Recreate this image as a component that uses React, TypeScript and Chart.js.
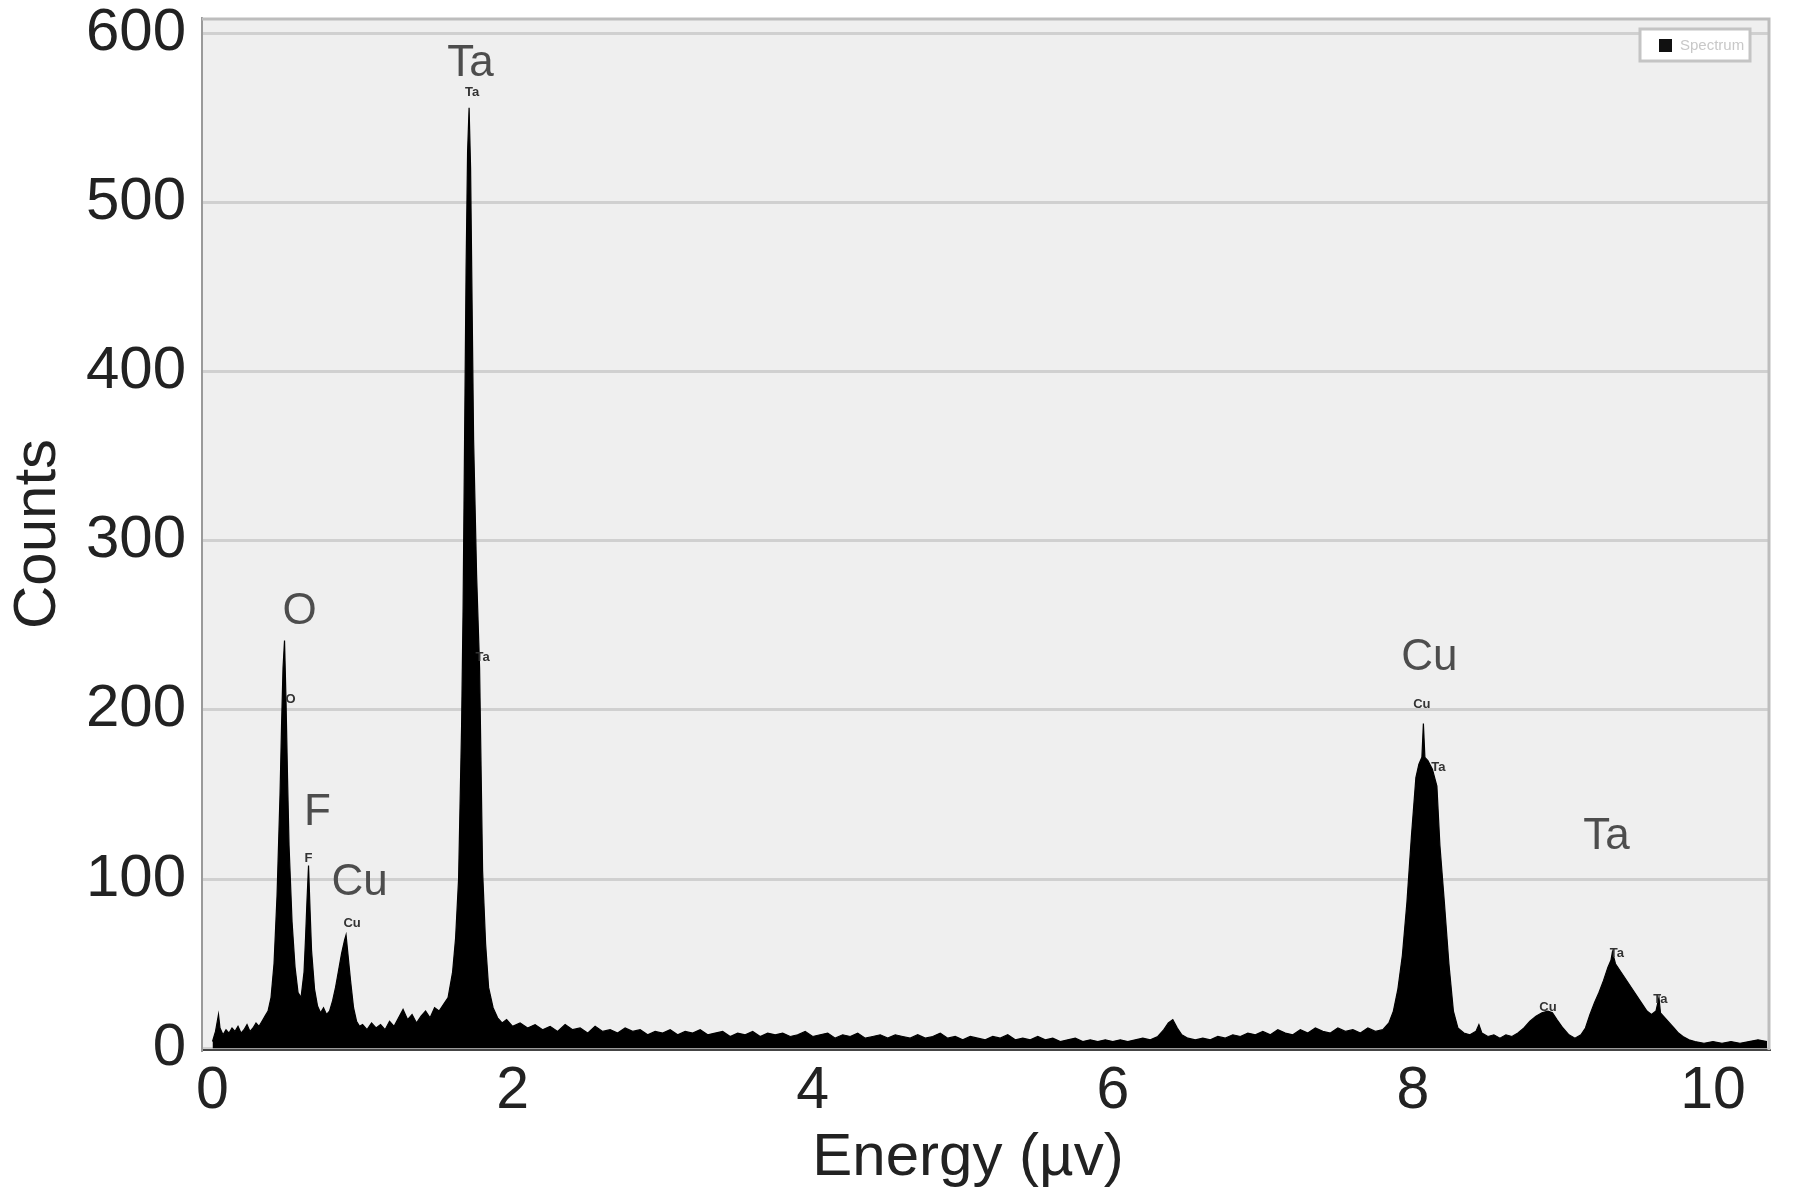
import React, { useEffect, useRef } from 'react';
import { Chart, registerables } from 'chart.js';

Chart.register(...registerables);

// ---- data ----
const energies = [
  0.00, 0.02, 0.04, 0.05, 0.07, 0.09, 0.11, 0.13, 0.15, 0.17, 0.19, 0.21, 0.23, 0.25, 0.27, 0.29,
  0.31, 0.33, 0.35, 0.37, 0.39, 0.41, 0.43, 0.45, 0.46, 0.47, 0.48, 0.49, 0.50, 0.51, 0.53, 0.55,
  0.57, 0.59, 0.61, 0.62, 0.63, 0.64, 0.65, 0.66, 0.68, 0.70, 0.72, 0.74, 0.76, 0.78, 0.80, 0.82,
  0.84, 0.86, 0.88, 0.89, 0.90, 0.92, 0.94, 0.96, 0.98, 1.00, 1.03, 1.06, 1.09, 1.12, 1.15, 1.18,
  1.21, 1.24, 1.27, 1.30, 1.33, 1.36, 1.39, 1.42, 1.45, 1.48, 1.51, 1.54, 1.57, 1.60, 1.62, 1.64,
  1.66, 1.67, 1.68, 1.69, 1.70, 1.71, 1.72, 1.73, 1.74, 1.76, 1.78, 1.79, 1.80, 1.82, 1.84, 1.87,
  1.90, 1.93, 1.96, 2.00,
  2.05, 2.10, 2.15, 2.20, 2.25, 2.30, 2.35, 2.40, 2.45, 2.50, 2.55, 2.60, 2.65, 2.70, 2.75, 2.80,
  2.85, 2.90, 2.95, 3.00, 3.05, 3.10, 3.15, 3.20, 3.25, 3.30, 3.35, 3.40, 3.45, 3.50, 3.55, 3.60,
  3.65, 3.70, 3.75, 3.80, 3.85, 3.90, 3.95, 4.00, 4.05, 4.10, 4.15, 4.20, 4.25, 4.30, 4.35, 4.40,
  4.45, 4.50, 4.55, 4.60, 4.65, 4.70, 4.75, 4.80, 4.85, 4.90, 4.95, 5.00, 5.05, 5.10, 5.15, 5.20,
  5.25, 5.30, 5.35, 5.40, 5.45, 5.50, 5.55, 5.60, 5.65, 5.70, 5.75, 5.80, 5.85, 5.90, 5.95, 6.00,
  6.05, 6.10, 6.15, 6.20, 6.25, 6.30, 6.34, 6.37, 6.40, 6.43, 6.46, 6.50, 6.55, 6.60, 6.65, 6.70,
  6.75, 6.80, 6.85, 6.90, 6.95, 7.00, 7.05, 7.10, 7.15, 7.20, 7.25, 7.30, 7.35, 7.40, 7.45, 7.50,
  7.55, 7.60, 7.65, 7.70, 7.75,
  7.80, 7.84, 7.87, 7.90, 7.93, 7.96, 7.99, 8.02, 8.04, 8.06, 8.07, 8.08, 8.10, 8.13, 8.16, 8.18,
  8.21, 8.24, 8.27, 8.30, 8.34, 8.38, 8.42, 8.44, 8.46, 8.50, 8.54, 8.58, 8.62, 8.66, 8.70, 8.74,
  8.78, 8.82, 8.86, 8.90, 8.93, 8.96, 9.00, 9.04, 9.08, 9.12, 9.15, 9.18, 9.21, 9.24, 9.27, 9.30,
  9.32, 9.33, 9.35, 9.38, 9.41, 9.44, 9.47, 9.50, 9.53, 9.56, 9.59, 9.62, 9.64, 9.65, 9.68, 9.71,
  9.74, 9.77, 9.80, 9.84, 9.88, 9.94, 10.00, 10.06, 10.12, 10.18, 10.24, 10.30, 10.36,
];

const counts = [
  4, 10, 20, 12, 8, 11, 9, 12, 10, 13, 9, 11, 14, 10, 12, 15,
  13, 16, 19, 22, 30, 50, 90, 150, 190, 225, 241, 205, 160, 120, 75, 48,
  33, 30, 45, 65, 88, 108, 82, 58, 35, 25, 21, 24, 20, 22, 28, 36,
  46, 56, 64, 67, 58, 40, 24, 16, 13, 14, 11, 15, 12, 14, 11, 16,
  13, 18, 23, 17, 20, 15, 19, 22, 18, 24, 22, 26, 30, 45, 65, 100,
  190, 260, 360, 460, 530, 556, 520, 440, 360, 280, 225, 165, 105, 62, 36, 24,
  18, 15, 17, 13,
  15, 12, 14, 11, 13, 10, 14, 11, 12, 9, 13, 10, 11, 9, 12, 10,
  11, 8, 10, 9, 11, 8, 10, 9, 11, 8, 9, 10, 7, 9, 8, 10,
  7, 9, 8, 9, 7, 8, 10, 7, 8, 9, 6, 8, 7, 9, 6, 7,
  8, 6, 8, 7, 6, 8, 6, 7, 9, 6, 7, 5, 7, 6, 5, 7,
  6, 8, 5, 6, 5, 7, 5, 6, 4, 5, 6, 4, 5, 4, 5, 4,
  5, 4, 5, 6, 5, 7, 11, 15, 17, 12, 8, 6, 5, 6, 5, 7,
  6, 8, 7, 9, 8, 10, 8, 11, 9, 8, 11, 9, 12, 10, 9, 12,
  10, 11, 9, 12, 10,
  11, 15, 22, 35, 55, 86, 125, 160, 168, 172, 192, 172, 170, 165, 155, 120,
  86, 50, 22, 12, 9, 8, 10, 14, 9, 7, 8, 6, 8, 7, 9, 12,
  16, 19, 21, 22, 21, 17, 12, 8, 6, 8, 12, 20, 27, 33, 40, 48,
  52, 57, 50, 46, 42, 38, 34, 30, 26, 22, 20, 22, 30, 21, 18, 15,
  12, 9, 7, 5, 4, 3, 4, 3, 4, 3, 4, 5, 4,
];

const xTicks = [0, 2, 4, 6, 8, 10];
const yTicks = [0, 100, 200, 300, 400, 500, 600];

// element labels (big, grey)
const peakLabels = ['O', 'F', 'Cu', 'Ta', 'Cu', 'Ta'];
const peakLabelEnergy = [0.58, 0.70, 0.98, 1.72, 8.11, 9.29];
const peakLabelCounts = [258, 139, 98, 582, 231, 125];

// line markers (tiny)
const lineLabels = ['Ta', 'Ta', 'O', 'F', 'Cu', 'Cu', 'Ta', 'Cu', 'Ta', 'Ta'];
const lineLabelEnergy = [1.73, 1.80, 0.52, 0.64, 0.93, 8.06, 8.17, 8.90, 9.36, 9.65];
const lineLabelCounts = [565, 231, 206, 112, 74, 203, 166, 24, 56, 29];

const legendLabel = 'Spectrum';
const xTitle = 'Energy (µv)';
const yTitle = 'Counts';

const FONT = "'Liberation Sans', Arial, Helvetica, sans-serif";

const decorPlugin = {
  id: 'decor',
  beforeDraw(chart: any) {
    const { ctx, chartArea: a } = chart;
    ctx.save();
    ctx.fillStyle = '#efefef';
    ctx.fillRect(a.left, a.top, a.right - a.left, a.bottom - a.top);
    ctx.restore();
  },
  afterDatasetsDraw(chart: any) {
    const { ctx, chartArea: a, scales } = chart;
    const xs = scales.x;
    const ys = scales.y;
    ctx.save();
    // frame top and right
    ctx.strokeStyle = '#bdbdbd';
    ctx.lineWidth = 3;
    ctx.beginPath();
    ctx.moveTo(a.left, a.top + 1);
    ctx.lineTo(a.right - 1, a.top + 1);
    ctx.lineTo(a.right - 1, a.bottom);
    ctx.stroke();

    // big element labels
    ctx.fillStyle = '#4d4d4d';
    ctx.font = `44px ${FONT}`;
    ctx.textAlign = 'center';
    ctx.textBaseline = 'middle';
    peakLabels.forEach((t, i) => {
      ctx.fillText(t, xs.getPixelForValue(peakLabelEnergy[i]), ys.getPixelForValue(peakLabelCounts[i]));
    });

    // tiny line markers
    ctx.fillStyle = '#333';
    ctx.font = `bold 13px ${FONT}`;
    lineLabels.forEach((t, i) => {
      ctx.fillText(t, xs.getPixelForValue(lineLabelEnergy[i]), ys.getPixelForValue(lineLabelCounts[i]));
    });

    // legend box
    const bw = 110;
    const bh = 32;
    const bx = a.right - 20 - bw;
    const by = a.top + 11;
    ctx.fillStyle = '#ffffff';
    ctx.fillRect(bx, by, bw, bh);
    ctx.strokeStyle = '#c4c4c4';
    ctx.lineWidth = 3;
    ctx.strokeRect(bx, by, bw, bh);
    ctx.fillStyle = '#111';
    ctx.fillRect(bx + 19, by + 10, 13, 13);
    ctx.fillStyle = '#c8c8c8';
    ctx.font = `15px ${FONT}`;
    ctx.textAlign = 'left';
    ctx.fillText(legendLabel, bx + 40, by + bh / 2 + 1);

    // axis titles
    ctx.fillStyle = '#222';
    ctx.font = `60px ${FONT}`;
    ctx.textAlign = 'center';
    ctx.textBaseline = 'alphabetic';
    ctx.fillText(xTitle, 968, 1175);
    ctx.translate(55, (a.top + a.bottom) / 2);
    ctx.rotate(-Math.PI / 2);
    ctx.fillText(yTitle, 0, 0);
    ctx.restore();
  },
};

export default function App() {
  const ref = useRef<HTMLCanvasElement | null>(null);

  useEffect(() => {
    if (!ref.current) return;
    const points = energies.map((e, i) => ({ x: e, y: counts[i] }));
    const chart = new Chart(ref.current, {
      type: 'line',
      data: {
        datasets: [
          {
            label: legendLabel,
            data: points,
            borderColor: '#000',
            backgroundColor: '#000',
            borderWidth: 1.2,
            pointRadius: 0,
            fill: 'origin',
            tension: 0,
          },
        ],
      },
      options: {
        animation: false,
        responsive: false,
        devicePixelRatio: 1,
        layout: { padding: { left: 0, top: 18, right: 30, bottom: 0 } },
        plugins: {
          legend: { display: false },
          tooltip: { enabled: false },
        },
        scales: {
          x: {
            type: 'linear',
            min: -0.07,
            max: 10.38,
            afterFit: (s: any) => {
              s.height = 145;
              s.paddingLeft = 0;
              s.paddingRight = 0;
              s.paddingTop = 0;
              s.paddingBottom = 0;
            },
            afterBuildTicks: (s: any) => { s.ticks = xTicks.map((v) => ({ value: v })); },
            grid: { display: false, drawTicks: false },
            border: { display: true, color: '#444', width: 2 },
            ticks: {
              padding: 6,
              color: '#222',
              font: { family: FONT, size: 59 },
              maxRotation: 0,
              autoSkip: false,
            },
          },
          y: {
            type: 'linear',
            min: -1,
            max: 609,
            afterFit: (s: any) => {
              s.width = 202;
              s.paddingTop = 0;
              s.paddingBottom = 0;
              s.paddingLeft = 0;
              s.paddingRight = 0;
            },
            afterBuildTicks: (s: any) => { s.ticks = yTicks.map((v) => ({ value: v })); },
            grid: { color: '#d0d0d0', lineWidth: 3, drawTicks: false },
            border: { display: true, color: '#9a9a9a', width: 2 },
            ticks: {
              padding: 16,
              color: '#222',
              font: { family: FONT, size: 60 },
              autoSkip: false,
            },
          },
        },
      },
      plugins: [decorPlugin],
    });
    return () => chart.destroy();
  }, []);

  return (
    <div style={{ position: 'fixed', left: 0, top: 0, width: 1800, height: 1195, background: '#fff' }}>
      <canvas ref={ref} width={1800} height={1195} style={{ display: 'block', width: 1800, height: 1195 }} />
    </div>
  );
}
